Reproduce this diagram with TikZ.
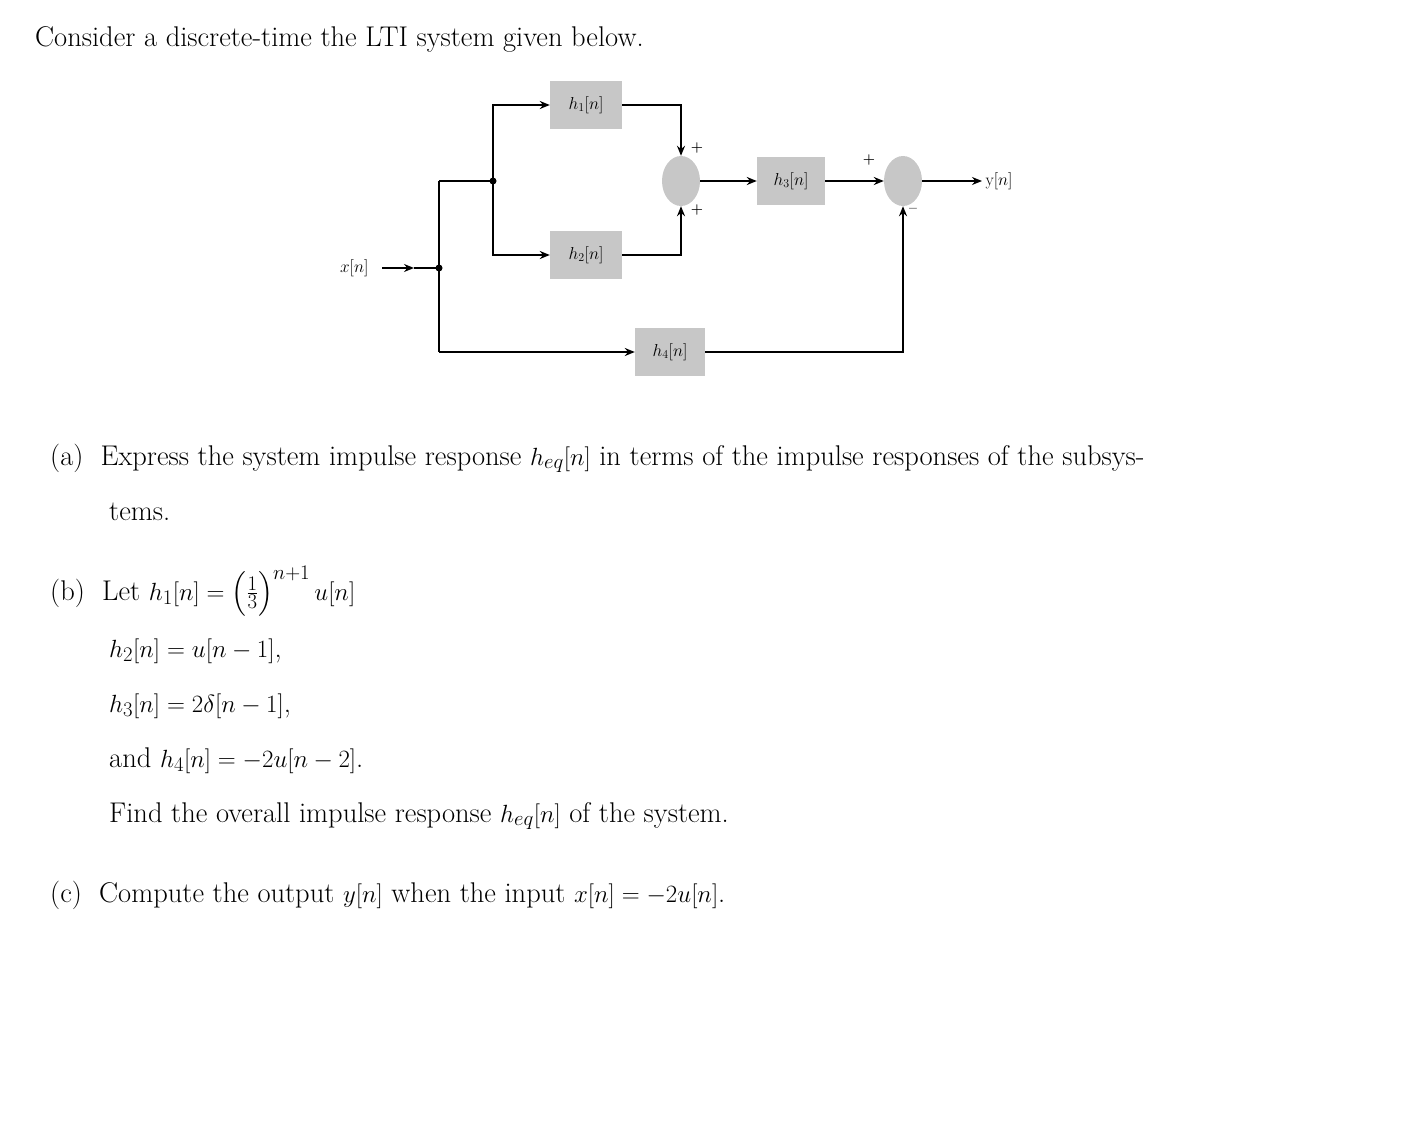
\documentclass[tikz,border=0pt]{standalone}
\usepackage{amsmath}
\usetikzlibrary{arrows.meta,shapes.geometric}
\begin{document}
\begin{tikzpicture}[x=1pt,y=-1pt,
  blk/.style={fill=black!22,minimum width=72,minimum height=48,inner sep=0pt,font=\fontsize{17}{20}\selectfont},
  sumn/.style={ellipse,fill=black!22,minimum width=38,minimum height=50,inner sep=0pt},
  wire/.style={line width=2.2pt},
  arr/.style={wire,-{Stealth[length=10pt,width=8pt]}},
  lab/.style={font=\fontsize{17}{20}\selectfont},
  sg/.style={font=\fontsize{14}{16}\selectfont\bfseries},
  txt/.style={anchor=base west,inner sep=0pt,font=\fontsize{28.5}{34}\selectfont}]
\useasboundingbox (0,0) rectangle (1424,1134);
\node[txt] (t0) at (35,47) {Consider a discrete-time the LTI system given below.};
% diagram
\node[blk] (h1) at (586,105) {$h_1[n]$};
\node[blk] (h2) at (586,255) {$h_2[n]$};
\node[blk,minimum width=68] (h3) at (791,181) {$h_3[n]$};
\node[blk,minimum width=70] (h4) at (670,352) {$h_4[n]$};
\node[sumn] (s1) at (681,181) {};
\node[sumn] (s2) at (903,181) {};
\node[lab,anchor=east] (x) at (372,268) {$x[n]$};
\node[lab,anchor=west] (y) at (982,181) {y$[n]$};
\coordinate (j0) at (439,268);
\coordinate (ja) at (439,181);
\coordinate (j1) at (493,181);
\coordinate (xm) at (414,268);
\coordinate (xs) at (382,268);
\coordinate (jb) at (439,352);
\draw[arr] (xs) -- (xm);
\draw[wire] (xm) -- (j0);
\draw[wire] (ja) -- (jb);
\draw[arr] (jb) -- (h4.west);
\draw[wire] (ja) -- (j1);
\draw[arr] (j1) |- (h1.west);
\draw[arr] (j1) |- (h2.west);
\fill (j1) circle (3.5pt);
\fill (j0) circle (3.5pt);
\draw[arr] (h1.east) -| (s1.north);
\draw[arr] (h2.east) -| (s1.south);
\draw[arr] (s1.east) -- (h3.west);
\draw[arr] (h3.east) -- (s2.west);
\draw[arr] (s2.east) -- (y.west);
\draw[arr] (h4.east) -| (s2.south);
\node[sg] (p1) at (697,148) {+};
\node[sg] (p2) at (697,210) {+};
\node[sg] (p3) at (869,160) {+};
\node[sg] (m1) at (913,210) {--};
% text
\node[txt] (a) at (50,465) {(a)\ \ Express the system impulse response $h_{eq}[n]$ in terms of the impulse responses of the subsys-};
\node[txt] (a2) at (109,520) {tems.};
\node[txt] (b) at (50,600) {(b)\ \ Let $h_1[n]=\left(\frac{1}{3}\right)^{n+1}u[n]$};
\node[txt] (b2) at (109,657) {$h_2[n]=u[n-1]$,};
\node[txt] (b3) at (109,712) {$h_3[n]=2\delta[n-1]$,};
\node[txt] (b4) at (109,767) {and $h_4[n]=-2u[n-2]$.};
\node[txt] (b5) at (109,822) {Find the overall impulse response $h_{eq}[n]$ of the system.};
\node[txt] (c) at (50,902) {(c)\ \ Compute the output $y[n]$ when the input $x[n]=-2u[n]$.};
\end{tikzpicture}
\end{document}
